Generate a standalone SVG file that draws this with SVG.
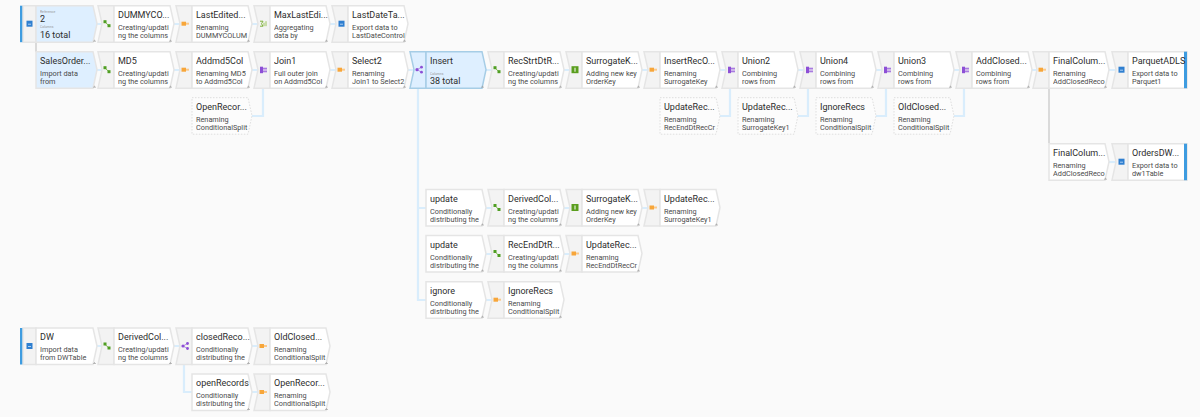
<svg xmlns="http://www.w3.org/2000/svg" width="1200" height="417" viewBox="0 0 1200 417">
<style>
.bg{fill:#fafafa}
.bd{fill:#fff;stroke:#e5e5e5;stroke-width:1.5}
.ins{fill:#deefff;stroke:#a6cde6;stroke-width:1.5}
.col{fill:#f3f3f3;stroke:#e5e5e5;stroke-width:1.5}
.colins{fill:#deefff;stroke:#a6cde6;stroke-width:1.5}
.dash{fill:#fcfcfc;stroke:#dedede;stroke-width:1;stroke-dasharray:1.5 1.5}
.bar{fill:#3e9ce0}
.t{font-family:Roboto,"Noto Sans",sans-serif;font-size:9px;fill:#2b2b2b;opacity:.99}
.d{font-family:Roboto,"Noto Sans",sans-serif;font-size:7.3px;fill:#4a4a4a;opacity:.99}
.s{font-family:Roboto,"Noto Sans",sans-serif;font-size:3.4px;fill:#999;opacity:.99}
.c{fill:none;stroke:#d9edfc;stroke-width:2.2}
.g{fill:none;stroke:#cfcfcf;stroke-width:1.5}
.k{fill:none;stroke:#999;stroke-width:.6}
</style>
<defs>
<path id="col" d="M0,0H16V36.5H0L4,18Z"/>
<path id="colf" d="M3,0H16V36.5H3Z"/>
<path id="body" d="M16,0H72L76,18L72,36.5H16Z"/>
<path id="bodyx" d="M16,0H73L77,18L73,36.5H16Z"/>
<path id="bodyr" d="M16,0H75V36.5H16Z"/>
<path id="tick" d="M71,35.5H74M72.5,34V35.5"/>
<g id="i-src"><rect x="6.5" y="15" width="6" height="6" fill="#2f7fd0"/><path d="M8,18.5h3" stroke="#cfe5fa" stroke-width=".8"/></g>
<g id="i-der"><path d="M6.5,16L11,20" stroke="#8bbf5a" stroke-width="1"/><rect x="5.5" y="14.5" width="3" height="3" fill="#4f9e22"/><rect x="9.5" y="18.5" width="3" height="3" fill="#4f9e22"/></g>
<g id="i-sel"><rect x="5.5" y="16" width="4.5" height="4" fill="#f7a63a"/><rect x="10" y="17" width="3" height="2" fill="#fbc98a"/></g>
<g id="i-agg"><path d="M6,15.5H9L7.5,18L9,20.5H6" fill="none" stroke="#7fb13c" stroke-width="1"/><path d="M10,20.5V17M12,20.5V15.5" stroke="#9cc45e" stroke-width="1"/></g>
<g id="i-join"><rect x="6" y="15" width="3" height="6.5" fill="#8d4fd6"/><rect x="9" y="16" width="4" height="1.8" fill="#a97be0"/><rect x="9" y="18.8" width="4" height="1.8" fill="#a97be0"/></g>
<g id="i-key"><rect x="5.5" y="14.5" width="7" height="7" fill="#5a9e1e"/><path d="M9,16v4" stroke="#fff" stroke-width="1"/></g>
<g id="i-split"><path d="M7,18L11.5,15.5M7,18L11.5,20.5" stroke="#a97be0" stroke-width=".8"/><circle cx="7" cy="18" r="1.6" fill="#8d4fd6"/><circle cx="11.5" cy="15.5" r="1.4" fill="#8d4fd6"/><circle cx="11.5" cy="20.5" r="1.4" fill="#8d4fd6"/></g>
</defs>
<rect class="bg" width="1200" height="417"/>
<g id="connectors">
<path class="c" d="M97,24H102M174,24H180M252,24H258M330,24H336"/>
<path class="c" d="M97,70H102M174,70H180M252,70H258M330,70H336M408,70H414M486,70H492M564,70H570M642,70H648M720,70H726M798,70H804M876,70H882M954,70H960M1032,70H1038M1109,70H1116"/>
<path class="c" d="M251,116H263V88M718,116H730V88M796,116H808V88M874,116H886V88M952,116H964V88"/>
<path class="c" d="M1108,162H1116"/>
<path class="c" d="M418,88V300H426M418,208H426"/>
<path class="c" d="M486,208H492M564,208H570M642,208H648M486,254H492M564,254H570M486,300H492"/>
<path class="c" d="M97,346H102M174,346H180M252,346H258M184,364V392H192M252,392H258"/>
<path class="g" d="M36,42V52M1049,88V143"/>
</g>
<g id="n-ref" transform="translate(20,5.7)"><rect class="bar" width="3" height="36.5"/><use href="#colf" class="col"/><use href="#bodyx" class="bd" style="fill:#deefff"/><use href="#i-src"/><text class="s" x="20" y="7">Reference</text><text class="t" x="20" y="16">2</text><text class="s" x="20" y="22.5">Columns</text><text class="t" x="20" y="32">16 total</text><use href="#tick" class="k" x="2"/></g>
<g id="n-dummy" transform="translate(98,5.7)"><use href="#col" class="col"/><use href="#body" class="bd"/><use href="#i-der"/><text class="t" x="20" y="12">DUMMYCO...</text><text class="d" x="20" y="24">Creating/updati</text><text class="d" x="20" y="32">ng the columns</text><use href="#tick" class="k"/></g>
<g id="n-lastedited" transform="translate(176,5.7)"><use href="#col" class="col"/><use href="#body" class="bd"/><use href="#i-sel"/><text class="t" x="20" y="12">LastEdited...</text><text class="d" x="20" y="24">Renaming</text><text class="d" x="20" y="32">DUMMYCOLUM</text><use href="#tick" class="k"/></g>
<g id="n-maxlast" transform="translate(254,5.7)"><use href="#col" class="col"/><use href="#body" class="bd"/><use href="#i-agg"/><text class="t" x="20" y="12">MaxLastEdi...</text><text class="d" x="20" y="24">Aggregating</text><text class="d" x="20" y="32">data by</text><use href="#tick" class="k"/></g>
<g id="n-lastdate" transform="translate(332,5.7)"><use href="#col" class="col"/><use href="#body" class="bd"/><use href="#i-src"/><text class="t" x="20" y="12">LastDateTa...</text><text class="d" x="20" y="24">Export data to</text><text class="d" x="20" y="32">LastDateControl</text><use href="#tick" class="k"/></g>

<g id="n-sales" transform="translate(20,51.7)"><use href="#bodyx" class="bd" style="fill:#deefff"/><text class="t" x="20" y="12">SalesOrder...</text><text class="d" x="20" y="24">Import data</text><text class="d" x="20" y="32">from</text><use href="#tick" class="k" x="2"/></g>
<g id="n-md5" transform="translate(98,51.7)"><use href="#col" class="col"/><use href="#body" class="bd"/><use href="#i-der"/><text class="t" x="20" y="12">MD5</text><text class="d" x="20" y="24">Creating/updati</text><text class="d" x="20" y="32">ng the columns</text><use href="#tick" class="k"/></g>
<g id="n-addmd5" transform="translate(176,51.7)"><use href="#col" class="col"/><use href="#body" class="bd"/><use href="#i-sel"/><text class="t" x="20" y="12">Addmd5Col</text><text class="d" x="20" y="24">Renaming MD5</text><text class="d" x="20" y="32">to Addmd5Col</text><use href="#tick" class="k"/></g>
<g id="n-join1" transform="translate(254,51.7)"><use href="#col" class="col"/><use href="#body" class="bd"/><use href="#i-join"/><text class="t" x="20" y="12">Join1</text><text class="d" x="20" y="24">Full outer join</text><text class="d" x="20" y="32">on Addmd5Col</text><use href="#tick" class="k"/></g>
<g id="n-select2" transform="translate(332,51.7)"><use href="#col" class="col"/><use href="#body" class="bd"/><use href="#i-sel"/><text class="t" x="20" y="12">Select2</text><text class="d" x="20" y="24">Renaming</text><text class="d" x="20" y="32">Join1 to Select2</text><use href="#tick" class="k"/></g>
<g id="n-insert" transform="translate(410,51.7)"><use href="#col" class="colins"/><use href="#body" class="ins"/><use href="#i-split"/><text class="t" x="20" y="12">Insert</text><text class="s" x="20" y="23">Columns</text><text class="t" x="20" y="32">38 total</text><use href="#tick" class="k"/></g>
<g id="n-recstrt" transform="translate(488,51.7)"><use href="#col" class="col"/><use href="#body" class="bd"/><use href="#i-der"/><text class="t" x="20" y="12">RecStrtDtR...</text><text class="d" x="20" y="24">Creating/updati</text><text class="d" x="20" y="32">ng the columns</text><use href="#tick" class="k"/></g>
<g id="n-surr1" transform="translate(566,51.7)"><use href="#col" class="col"/><use href="#body" class="bd"/><use href="#i-key"/><text class="t" x="20" y="12">SurrogateK...</text><text class="d" x="20" y="24">Adding new key</text><text class="d" x="20" y="32">OrderKey</text><use href="#tick" class="k"/></g>
<g id="n-insertrec" transform="translate(644,51.7)"><use href="#col" class="col"/><use href="#body" class="bd"/><use href="#i-sel"/><text class="t" x="20" y="12">InsertRecO...</text><text class="d" x="20" y="24">Renaming</text><text class="d" x="20" y="32">SurrogateKey</text><use href="#tick" class="k"/></g>
<g id="n-union2" transform="translate(722,51.7)"><use href="#col" class="col"/><use href="#body" class="bd"/><use href="#i-join"/><text class="t" x="20" y="12">Union2</text><text class="d" x="20" y="24">Combining</text><text class="d" x="20" y="32">rows from</text><use href="#tick" class="k"/></g>
<g id="n-union4" transform="translate(800,51.7)"><use href="#col" class="col"/><use href="#body" class="bd"/><use href="#i-join"/><text class="t" x="20" y="12">Union4</text><text class="d" x="20" y="24">Combining</text><text class="d" x="20" y="32">rows from</text><use href="#tick" class="k"/></g>
<g id="n-union3" transform="translate(878,51.7)"><use href="#col" class="col"/><use href="#body" class="bd"/><use href="#i-join"/><text class="t" x="20" y="12">Union3</text><text class="d" x="20" y="24">Combining</text><text class="d" x="20" y="32">rows from</text><use href="#tick" class="k"/></g>
<g id="n-addclosed" transform="translate(956,51.7)"><use href="#col" class="col"/><use href="#body" class="bd"/><use href="#i-join"/><text class="t" x="20" y="12">AddClosed...</text><text class="d" x="20" y="24">Combining</text><text class="d" x="20" y="32">rows from</text><use href="#tick" class="k"/></g>
<g id="n-final1" transform="translate(1033,51.7)"><use href="#col" class="col"/><use href="#body" class="bd"/><use href="#i-sel"/><text class="t" x="20" y="12">FinalColum...</text><text class="d" x="20" y="24">Renaming</text><text class="d" x="20" y="32">AddClosedReco</text><use href="#tick" class="k"/></g>
<g id="n-parquet" transform="translate(1112,51.7)"><use href="#col" class="col"/><use href="#bodyr" class="bd"/><rect class="bar" x="72" width="3" height="36.5"/><use href="#i-src"/><text class="t" x="20" y="12">ParquetADLS</text><text class="d" x="20" y="24">Export data to</text><text class="d" x="20" y="32">Parquet1</text></g>

<g id="n-openrec1" transform="translate(176,97.7)"><use href="#body" class="dash"/><text class="t" x="20" y="12">OpenRecor...</text><text class="d" x="20" y="24">Renaming</text><text class="d" x="20" y="32">ConditionalSplit</text></g>
<g id="n-updrec1" transform="translate(644,97.7)"><use href="#body" class="dash"/><text class="t" x="20" y="12">UpdateRec...</text><text class="d" x="20" y="24">Renaming</text><text class="d" x="20" y="32">RecEndDtRecCr</text></g>
<g id="n-updrec2" transform="translate(722,97.7)"><use href="#body" class="dash"/><text class="t" x="20" y="12">UpdateRec...</text><text class="d" x="20" y="24">Renaming</text><text class="d" x="20" y="32">SurrogateKey1</text></g>
<g id="n-ignore1" transform="translate(800,97.7)"><use href="#body" class="dash"/><text class="t" x="20" y="12">IgnoreRecs</text><text class="d" x="20" y="24">Renaming</text><text class="d" x="20" y="32">ConditionalSplit</text></g>
<g id="n-oldclosed1" transform="translate(878,97.7)"><use href="#body" class="dash"/><text class="t" x="20" y="12">OldClosed...</text><text class="d" x="20" y="24">Renaming</text><text class="d" x="20" y="32">ConditionalSplit</text></g>

<g id="n-final2" transform="translate(1033,143.7)"><use href="#body" class="bd"/><text class="t" x="20" y="12">FinalColum...</text><text class="d" x="20" y="24">Renaming</text><text class="d" x="20" y="32">AddClosedReco</text><use href="#tick" class="k"/></g>
<g id="n-orders" transform="translate(1112,143.7)"><use href="#col" class="col"/><use href="#bodyr" class="bd"/><rect class="bar" x="72" width="3" height="36.5"/><use href="#i-src"/><text class="t" x="20" y="12">OrdersDW...</text><text class="d" x="20" y="24">Export data to</text><text class="d" x="20" y="32">dw1Table</text></g>

<g id="n-update1" transform="translate(410,189.5)"><use href="#body" class="bd"/><text class="t" x="20" y="12">update</text><text class="d" x="20" y="24">Conditionally</text><text class="d" x="20" y="32">distributing the</text><use href="#tick" class="k"/></g>
<g id="n-derived1" transform="translate(488,189.5)"><use href="#col" class="col"/><use href="#body" class="bd"/><use href="#i-der"/><text class="t" x="20" y="12">DerivedCol...</text><text class="d" x="20" y="24">Creating/updati</text><text class="d" x="20" y="32">ng the columns</text><use href="#tick" class="k"/></g>
<g id="n-surr2" transform="translate(566,189.5)"><use href="#col" class="col"/><use href="#body" class="bd"/><use href="#i-key"/><text class="t" x="20" y="12">SurrogateK...</text><text class="d" x="20" y="24">Adding new key</text><text class="d" x="20" y="32">OrderKey</text><use href="#tick" class="k"/></g>
<g id="n-updrec3" transform="translate(644,189.5)"><use href="#col" class="col"/><use href="#body" class="bd"/><use href="#i-sel"/><text class="t" x="20" y="12">UpdateRec...</text><text class="d" x="20" y="24">Renaming</text><text class="d" x="20" y="32">SurrogateKey1</text><use href="#tick" class="k"/></g>

<g id="n-update2" transform="translate(410,235.5)"><use href="#body" class="bd"/><text class="t" x="20" y="12">update</text><text class="d" x="20" y="24">Conditionally</text><text class="d" x="20" y="32">distributing the</text><use href="#tick" class="k"/></g>
<g id="n-recend" transform="translate(488,235.5)"><use href="#col" class="col"/><use href="#body" class="bd"/><use href="#i-der"/><text class="t" x="20" y="12">RecEndDtR...</text><text class="d" x="20" y="24">Creating/updati</text><text class="d" x="20" y="32">ng the columns</text><use href="#tick" class="k"/></g>
<g id="n-updrec4" transform="translate(566,235.5)"><use href="#col" class="col"/><use href="#body" class="bd"/><use href="#i-sel"/><text class="t" x="20" y="12">UpdateRec...</text><text class="d" x="20" y="24">Renaming</text><text class="d" x="20" y="32">RecEndDtRecCr</text><use href="#tick" class="k"/></g>

<g id="n-ignore" transform="translate(410,281.7)"><use href="#body" class="bd"/><text class="t" x="20" y="12">ignore</text><text class="d" x="20" y="24">Conditionally</text><text class="d" x="20" y="32">distributing the</text><use href="#tick" class="k"/></g>
<g id="n-ignorerecs" transform="translate(488,281.7)"><use href="#col" class="col"/><use href="#body" class="bd"/><use href="#i-sel"/><text class="t" x="20" y="12">IgnoreRecs</text><text class="d" x="20" y="24">Renaming</text><text class="d" x="20" y="32">ConditionalSplit</text><use href="#tick" class="k"/></g>

<g id="n-dw" transform="translate(20,328)"><rect class="bar" width="3" height="36.5"/><use href="#colf" class="col"/><use href="#bodyx" class="bd"/><use href="#i-src"/><text class="t" x="20" y="12">DW</text><text class="d" x="20" y="24">Import data</text><text class="d" x="20" y="32">from DWTable</text><use href="#tick" class="k" x="2"/></g>
<g id="n-derived2" transform="translate(98,328)"><use href="#col" class="col"/><use href="#body" class="bd"/><use href="#i-der"/><text class="t" x="20" y="12">DerivedCol...</text><text class="d" x="20" y="24">Creating/updati</text><text class="d" x="20" y="32">ng the columns</text><use href="#tick" class="k"/></g>
<g id="n-closedrec" transform="translate(176,328)"><use href="#col" class="col"/><use href="#body" class="bd"/><use href="#i-split"/><text class="t" x="20" y="12">closedReco...</text><text class="d" x="20" y="24">Conditionally</text><text class="d" x="20" y="32">distributing the</text><use href="#tick" class="k"/></g>
<g id="n-oldclosed2" transform="translate(254,328)"><use href="#col" class="col"/><use href="#body" class="bd"/><use href="#i-sel"/><text class="t" x="20" y="12">OldClosed...</text><text class="d" x="20" y="24">Renaming</text><text class="d" x="20" y="32">ConditionalSplit</text><use href="#tick" class="k"/></g>
<g id="n-openrecords" transform="translate(176,374)"><use href="#body" class="bd"/><text class="t" x="20" y="12">openRecords</text><text class="d" x="20" y="24">Conditionally</text><text class="d" x="20" y="32">distributing the</text><use href="#tick" class="k"/></g>
<g id="n-openrec2" transform="translate(254,374)"><use href="#col" class="col"/><use href="#body" class="bd"/><use href="#i-sel"/><text class="t" x="20" y="12">OpenRecor...</text><text class="d" x="20" y="24">Renaming</text><text class="d" x="20" y="32">ConditionalSplit</text><use href="#tick" class="k"/></g>
</svg>
